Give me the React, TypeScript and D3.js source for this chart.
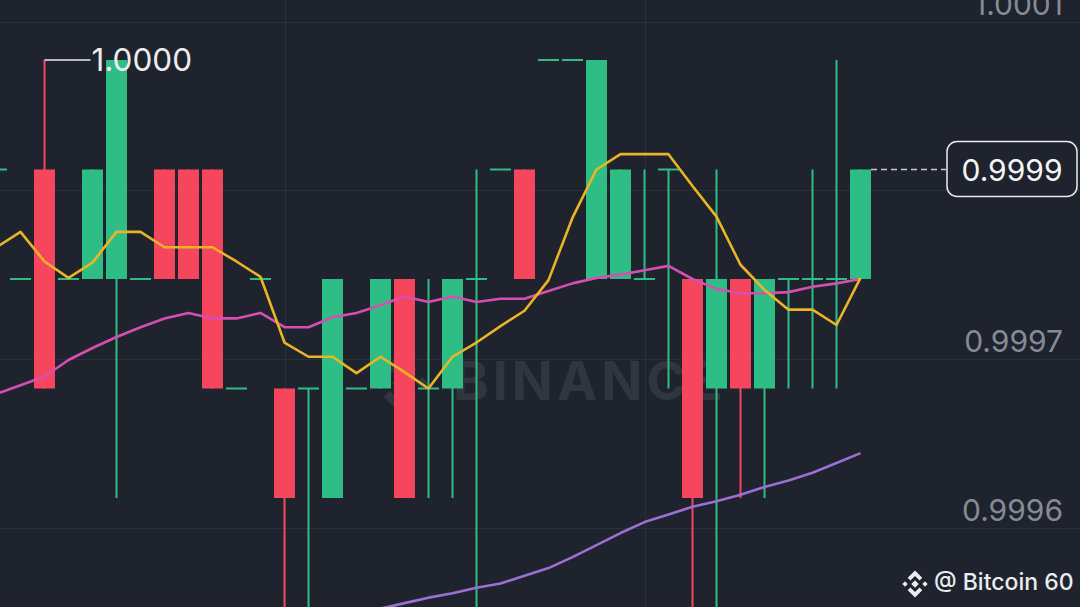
import React from 'react';
import * as d3 from 'd3';

// candle index -1 is the one cut off at the left edge
const candleIndex = d3.range(-1, 36);
const opens = [0.9999, 0.9998, 0.9999, 0.9998, 0.9998, 0.9998, 0.9998, 0.9999, 0.9999, 0.9999, 0.9997, 0.9998,
  0.9997, 0.9997, 0.9996, 0.9997, 0.9997, 0.9998, 0.9997, 0.9997, 0.9998, 0.9999, 0.9999, 1.0000, 1.0000,
  0.9998, 0.9998, 0.9998, 0.9999, 0.9998, 0.9997, 0.9998, 0.9997, 0.9998, 0.9998, 0.9998, 0.9998];
const highs = [0.9999, 0.9998, 1.0000, 0.9998, 0.9999, 1.0000, 0.9998, 0.9999, 0.9999, 0.9999, 0.9997, 0.9998,
  0.9997, 0.9997, 0.9998, 0.9997, 0.9998, 0.9998, 0.9998, 0.9998, 0.9999, 0.9999, 0.9999, 1.0000, 1.0000,
  1.0000, 0.9999, 0.9999, 0.9999, 0.9998, 0.9999, 0.9998, 0.9998, 0.9998, 0.9999, 1.0000, 0.9999];
const lows = [0.9999, 0.9998, 0.9997, 0.9998, 0.9998, 0.9996, 0.9998, 0.9998, 0.9998, 0.9997, 0.9997, 0.9998,
  0.9995, 0.9995, 0.9996, 0.9997, 0.9997, 0.9996, 0.9996, 0.9996, 0.9995, 0.9999, 0.9998, 1.0000, 1.0000,
  0.9998, 0.9998, 0.9998, 0.9997, 0.9995, 0.9995, 0.9996, 0.9996, 0.9997, 0.9997, 0.9997, 0.9998];
const closes = [0.9999, 0.9998, 0.9997, 0.9998, 0.9999, 1.0000, 0.9998, 0.9998, 0.9998, 0.9997, 0.9997, 0.9998,
  0.9996, 0.9997, 0.9998, 0.9997, 0.9998, 0.9996, 0.9997, 0.9998, 0.9998, 0.9999, 0.9998, 1.0000, 1.0000,
  1.0000, 0.9999, 0.9998, 0.9999, 0.9996, 0.9998, 0.9997, 0.9998, 0.9998, 0.9998, 0.9998, 0.9999];

const ma7 = [0.999829, 0.999843, 0.999816, 0.999801, 0.999815, 0.999843, 0.999843, 0.999829, 0.999829, 0.999829,
  0.999816, 0.999802, 0.999742, 0.999729, 0.999729, 0.999714, 0.999729, 0.999715, 0.999700, 0.999729, 0.999742,
  0.999757, 0.999771, 0.999799, 0.999856, 0.999900, 0.999914, 0.999914, 0.999914, 0.999885, 0.999857, 0.999813,
  0.999790, 0.999772, 0.999772, 0.999758, 0.999801];
const ma25 = [0.999695, 0.999703, 0.999711, 0.999726, 0.999737, 0.999747, 0.999756, 0.999764, 0.999769, 0.999764,
  0.999764, 0.999769, 0.999756, 0.999756, 0.999765, 0.999769, 0.999776, 0.999784, 0.999779, 0.999784, 0.999779,
  0.999782, 0.999782, 0.999789, 0.999796, 0.999801, 0.999804, 0.999808, 0.999812, 0.999800, 0.999791, 0.999787,
  0.999787, 0.999788, 0.999793, 0.999796, 0.999800];
// MA(99) only enters the view from candle 14 on
const ma99Start = 14;
const ma99 = [0.999495, 0.999499, 0.999504, 0.999509, 0.999513, 0.999518, 0.999522, 0.999529, 0.999536, 0.999546,
  0.999557, 0.999568, 0.999578, 0.999585, 0.999592, 0.999597, 0.999603, 0.999610, 0.999616, 0.999623, 0.999632,
  0.999641];

const gridPrices = [1.000035, 0.999881, 0.999727, 0.999573];
const gridLabels = ['1.0001', '', '0.9997', '0.9996'];
const gridCandles = [11, 26];
const highLabel = '1.0000';
const lastPrice = '0.9999';
const legendNames = ['MA(7) 0.9998', 'MA(25) 0.9998', 'MA(99) 0.9996'];

const W = 1080;
const H = 607;
const BG = '#1f232d';
const UP = '#2ebd85';
const DOWN = '#f6465d';
const GRID = '#2b303b';
const maColors = ['#e9b526', '#d64fb0', '#9b6fd4'];

function BinanceLogo({ cx, cy, s, fill }: { cx: number; cy: number; s: number; fill: string }) {
  const pts = (arr: number[][]) => arr.map(([a, b]) => `${cx + a * s},${cy + b * s}`).join(' ');
  const chev = (d: number) =>
    pts([[0, -0.5 * d], [0.27, -0.23 * d], [0.17, -0.13 * d], [0, -0.3 * d], [-0.17, -0.13 * d], [-0.27, -0.23 * d]]);
  const dia = (x: number, r: number) => pts([[x, -r], [x + r, 0], [x, r], [x - r, 0]]);
  return (
    <g fill={fill}>
      <polygon points={chev(1)} />
      <polygon points={chev(-1)} />
      <polygon points={dia(0, 0.14)} />
      <polygon points={dia(-0.37, 0.1)} />
      <polygon points={dia(0.37, 0.1)} />
    </g>
  );
}

export default function App() {
  const x = d3.scaleLinear().domain([-1, 35]).range([-3.5, 860.5]);
  const y = d3.scaleLinear().domain([0.9996, 1.0]).range([498, 60]);
  const bodyW = 21;

  const line = d3.line<number>().x((d, i) => x(candleIndex[i])).y((d) => y(d));
  const line99 = d3.line<number>().x((d, i) => x(ma99Start + i)).y((d) => y(d));

  const last = candleIndex.length - 1;
  const lastX = x(candleIndex[last]) + bodyW / 2;
  const highI = candleIndex.indexOf(1);
  const font = 'Inter, Roboto, "Noto Sans", sans-serif';

  return (
    <svg width={W} height={H} style={{ position: 'absolute', left: 0, top: 0, background: BG }} fontFamily={font}>
      <rect width={W} height={H} fill={BG} />

      {/* grid */}
      {gridPrices.map((p, i) => (
        <line key={'h' + i} x1={0} x2={W} y1={Math.round(y(p)) + 0.5} y2={Math.round(y(p)) + 0.5} stroke={GRID} />
      ))}
      {gridCandles.map((c) => (
        <line key={'v' + c} x1={Math.round(x(c)) + 0.5} x2={Math.round(x(c)) + 0.5} y1={0} y2={H} stroke={GRID} />
      ))}

      {/* watermark */}
      <BinanceLogo cx={400} cy={383} s={60} fill="#30353f" />
      <text x={453} y={400} fontSize={54} fontWeight={700} fill="#30353f" textLength={270} lengthAdjust="spacing">
        BINANCE
      </text>

      {/* legend, cut by the top edge as in the source */}
      {legendNames.map((t, i) => (
        <text key={t} x={[57, 300, 557][i]} y={-3} fontSize={28} fill={maColors[i]}>
          {t}
        </text>
      ))}

      {/* candles */}
      {candleIndex.map((c, i) => {
        const o = opens[i];
        const cl = closes[i];
        const col = cl >= o ? UP : DOWN;
        const cx = x(c);
        const top = y(Math.max(o, cl));
        const bot = y(Math.min(o, cl));
        const h = Math.max(bot - top, 2);
        return (
          <g key={c}>
            <rect x={cx - 1} y={y(highs[i])} width={2} height={y(lows[i]) - y(highs[i])} fill={col} />
            <rect x={cx - bodyW / 2} y={bot - top < 2 ? top - 1 : top} width={bodyW} height={h} fill={col} />
          </g>
        );
      })}

      {/* moving averages */}
      <path d={line99(ma99) as string} fill="none" stroke={maColors[2]} strokeWidth={2.6} strokeLinejoin="round" />
      <path d={line(ma25) as string} fill="none" stroke={maColors[1]} strokeWidth={2.6} strokeLinejoin="round" />
      <path d={line(ma7) as string} fill="none" stroke={maColors[0]} strokeWidth={2.6} strokeLinejoin="round" />

      {/* high marker */}
      <line x1={x(candleIndex[highI])} x2={x(candleIndex[highI]) + 46} y1={y(highs[highI])} y2={y(highs[highI])} stroke="#eaecef" strokeWidth={1.3} />
      <text x={x(candleIndex[highI]) + 47} y={y(highs[highI]) + 11} fontSize={31.5} fill="#eaecef">
        {highLabel}
      </text>

      {/* y axis labels */}
      {gridPrices.map((p, i) =>
        gridLabels[i] ? (
          <text key={'l' + i} x={1063} y={y(p) - 7} fontSize={30} fill="#858b96" textAnchor="end">
            {gridLabels[i]}
          </text>
        ) : null
      )}

      {/* last price */}
      <line x1={lastX} x2={946} y1={y(closes[last])} y2={y(closes[last])} stroke="#c9ccd2" strokeWidth={1.3} strokeDasharray="6 4" />
      <rect x={947} y={y(closes[last]) - 28} width={130} height={55} rx={10} fill={BG} stroke="#eaecef" strokeWidth={1.5} />
      <text x={1012} y={y(closes[last]) + 11} fontSize={30} fill="#f5f5f5" textAnchor="middle">
        {lastPrice}
      </text>

      {/* footer */}
      <BinanceLogo cx={915} cy={584} s={27} fill="#eaecef" />
      <text x={934} y={590} fontSize={23} fontWeight={500} fill="#eaecef">
        @ Bitcoin 60
      </text>
    </svg>
  );
}
